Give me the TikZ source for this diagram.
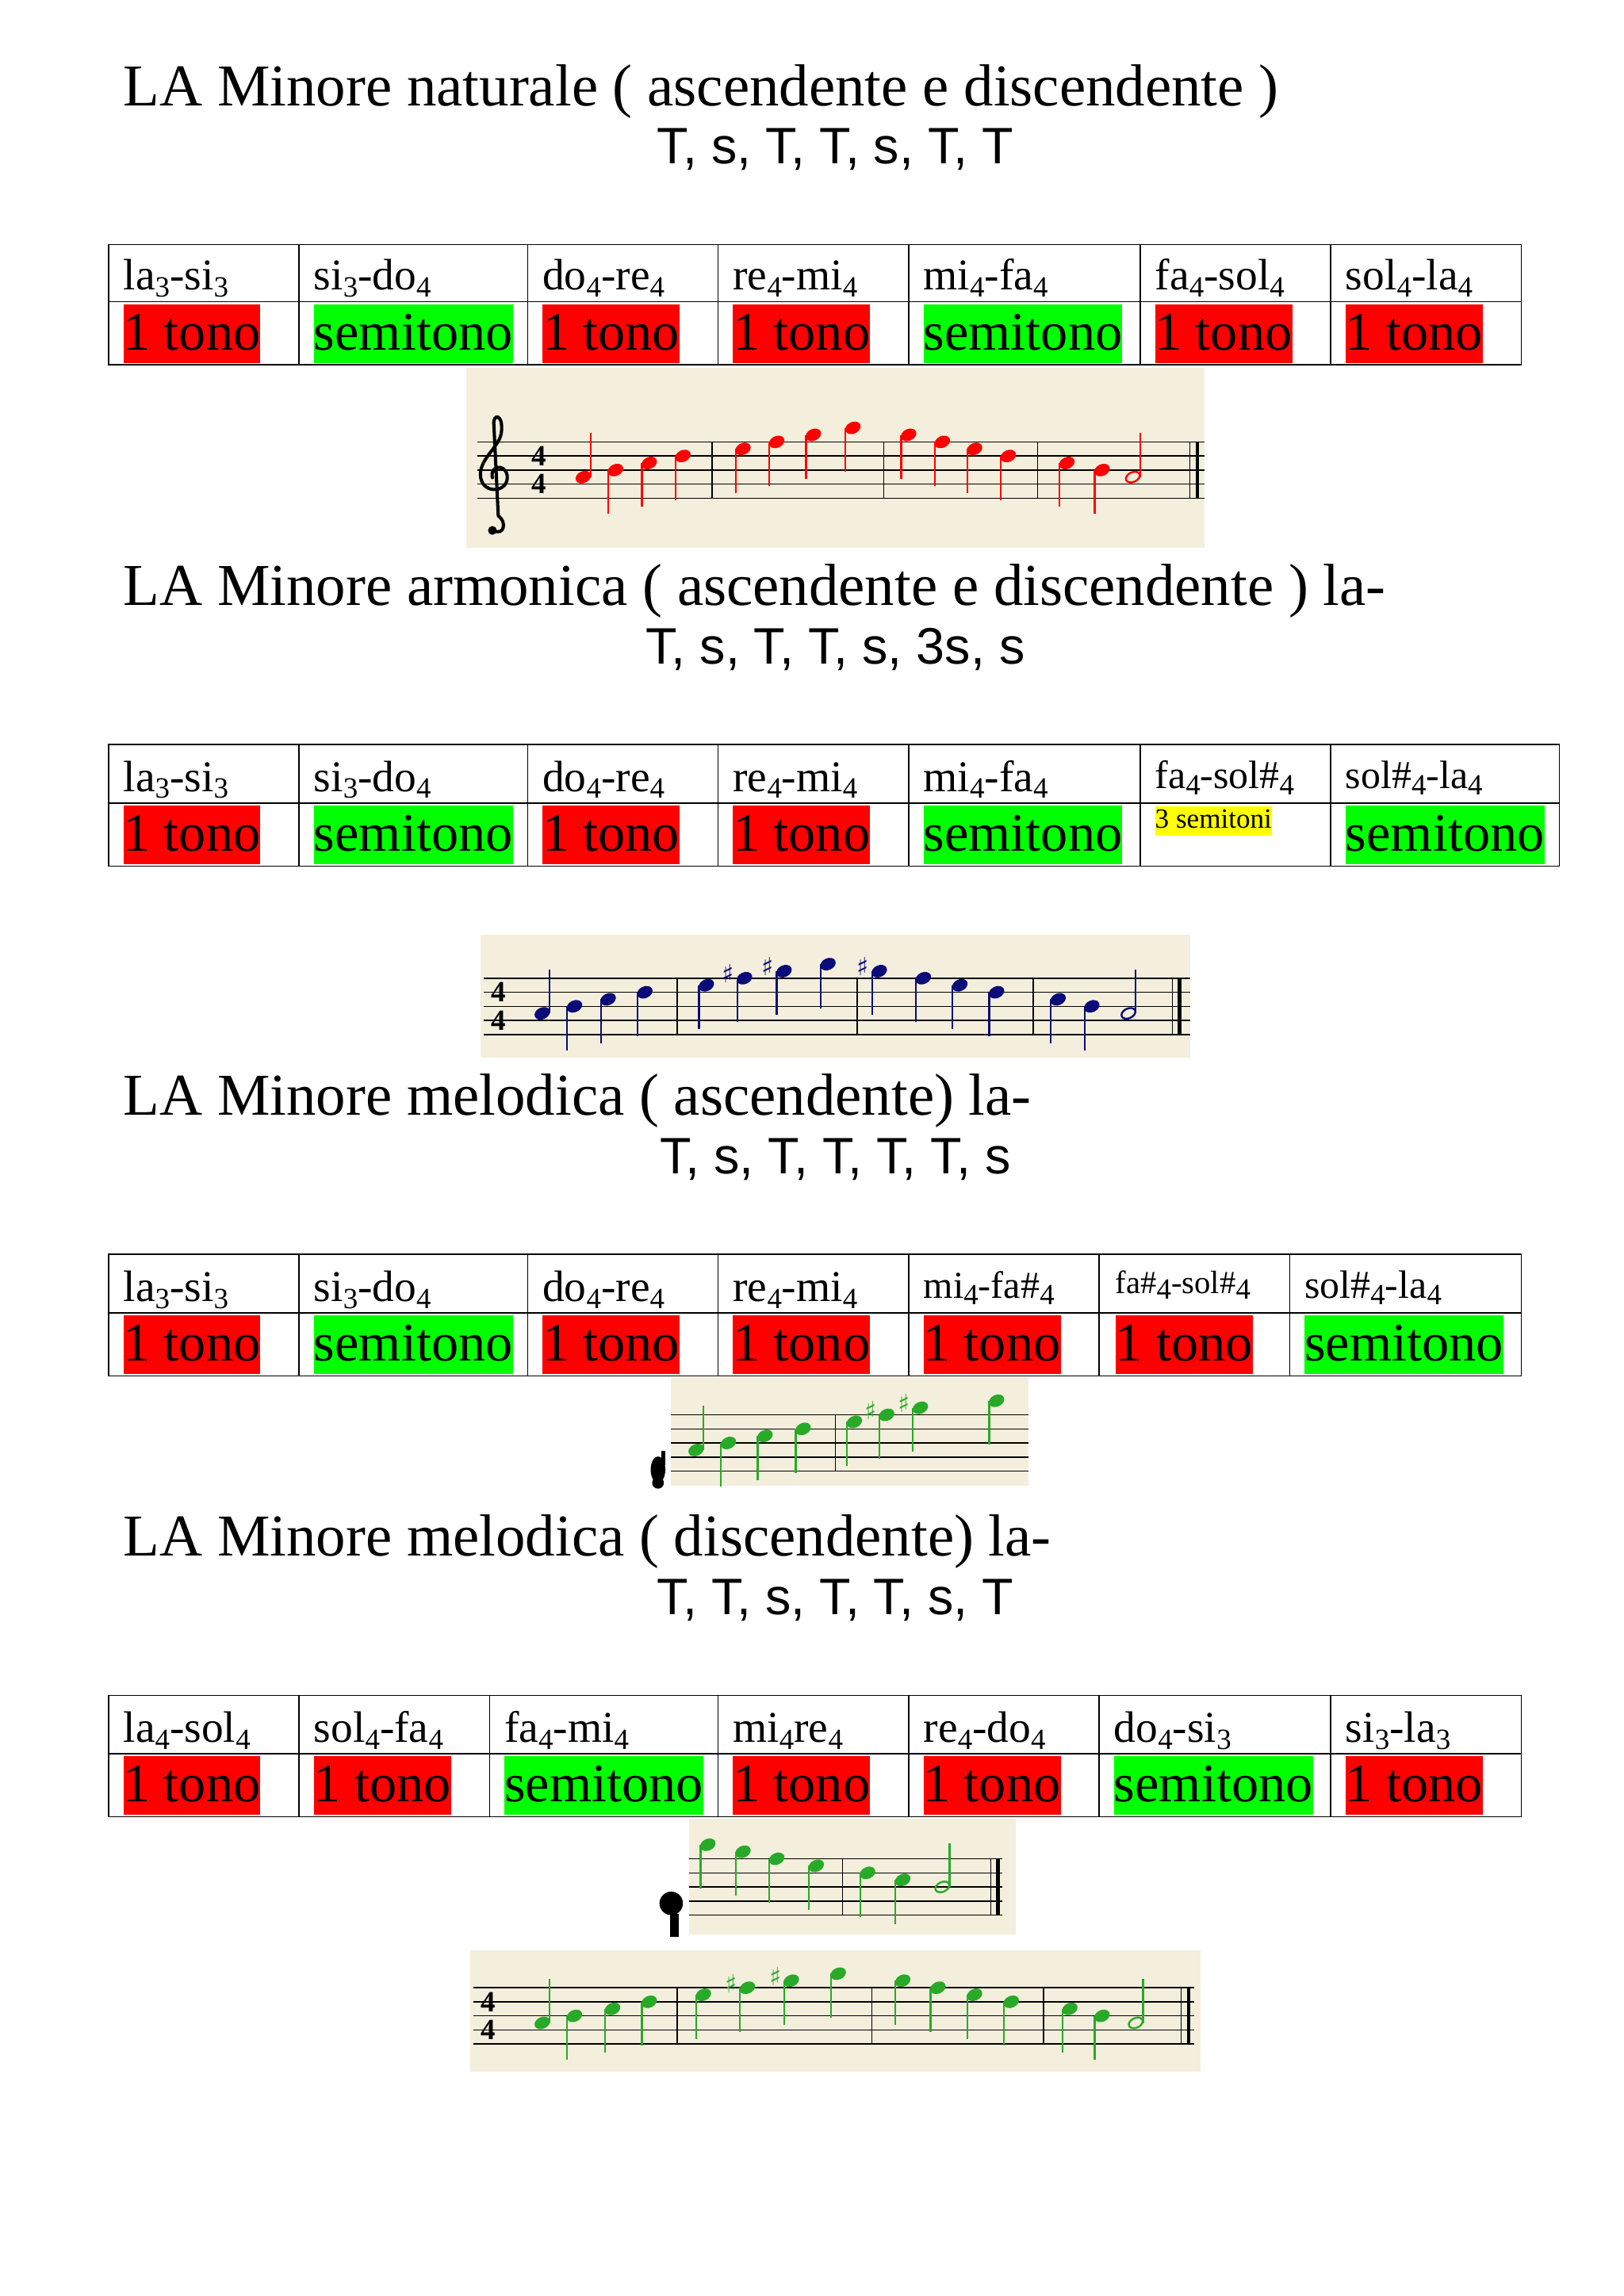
\documentclass[tikz,border=0pt]{standalone}
\usepackage{fontspec}
\setmainfont{Liberation Serif}
\newfontfamily\arialf{Liberation Sans}
\newfontfamily\djv{DejaVu Sans}
\definecolor{rd}{RGB}{255,0,0}
\definecolor{gr}{RGB}{0,255,0}
\definecolor{yl}{RGB}{255,255,0}
\definecolor{cream}{RGB}{244,238,220}
\definecolor{nblue}{RGB}{10,10,120}
\definecolor{ngreen}{RGB}{40,170,40}
\newcommand\subx[1]{\raisebox{-.35ex}{\fontsize{20}{20}\selectfont #1}}
\newcommand\mynt[4]{\pgfmathsetmacro\ny{#2-#3*4.8}%
 \fill[#4,rotate around={25:(#1,\ny)}] (#1,\ny) ellipse (5.5 and 4);
 \ifnum#3<4 \draw[#4,line width=1.2pt] (#1+5,\ny) -- ++(0,-30); \else \draw[#4,line width=1.2pt] (#1-5,\ny) -- ++(0,30); \fi}
\newcommand\myntH[4]{\pgfmathsetmacro\ny{#2-#3*4.8}%
 \draw[#4,line width=1.3pt,rotate around={25:(#1,\ny)}] (#1,\ny) ellipse (5 and 3.3);
 \draw[#4,line width=1.2pt] (#1+5,\ny) -- ++(0,-30);}
\newcommand\myshp[4]{\pgfmathsetmacro\ny{#2-#3*4.8}\node[#4,font=\djv\fontsize{17}{17}\selectfont] at (#1-11,\ny-3) {♯};}
\newcommand\mystf[3]{\foreach \i in {0,...,4}{\draw[line width=0.8pt] (#1,#3-9.6*\i) -- (#2,#3-9.6*\i);}}
\newcommand\mybar[2]{\draw[line width=0.8pt] (#1,#2) -- (#1,#2-38.4);}
\newcommand\mydbar[2]{\draw[line width=0.8pt] (#1,#2) -- (#1,#2-38.4);\draw[line width=2.5pt] (#1+5,#2) -- (#1+5,#2-38.4);}
\newcommand\mytsig[2]{\node[font=\bfseries\fontsize{20}{20}\selectfont,inner sep=0] at (#1,#2-28.8) {4};\node[font=\bfseries\fontsize{20}{20}\selectfont,inner sep=0] at (#1,#2-9.6) {4};}
\tikzset{ttl/.style={anchor=base west,font=\fontsize{40.5}{42}\selectfont,inner sep=0},
 pat/.style={anchor=base,font=\arialf\fontsize{35}{36}\selectfont,inner sep=0},
 hdr/.style={anchor=base west,font=\fontsize{30}{30}\selectfont,inner sep=0},
 fc/.style={anchor=north west,font=\fontsize{37}{37}\selectfont,inner xsep=0,inner ysep=0,text height=31,text depth=9,fill=#1},
 grid/.style={line width=0.8pt}}
\begin{document}
\begin{tikzpicture}[x=1pt,y=-1pt]
\useasboundingbox[fill=white] (0,0) rectangle (1108,1567);
% ---------- section 1
\node[ttl] (t1) at (84,72) {LA Minore naturale ( ascendente e discendente )};
\node[pat] (p1) at (570,112) {T, s, T, T, s, T, T};
\draw[grid] (74,167) rectangle (1038,249) (74,206) -- (1038,206);
\foreach \x in {204,360,490,620,778,908}{\draw[grid] (\x,167) -- (\x,249);}
\node[hdr] at (84,198) {la\subx3-si\subx3};
\node[hdr] at (214,198) {si\subx3-do\subx4};
\node[hdr] at (370,198) {do\subx4-re\subx4};
\node[hdr] at (500,198) {re\subx4-mi\subx4};
\node[hdr] at (630,198) {mi\subx4-fa\subx4};
\node[hdr] at (788,198) {fa\subx4-sol\subx4};
\node[hdr] at (918,198) {sol\subx4-la\subx4};
\node[fc=rd] at (84,207.5) {1 tono};
\node[fc=gr] at (214,207.5) {semitono};
\node[fc=rd] at (370,207.5) {1 tono};
\node[fc=rd] at (500,207.5) {1 tono};
\node[fc=gr] at (630,207.5) {semitono};
\node[fc=rd] at (788,207.5) {1 tono};
\node[fc=rd] at (918,207.5) {1 tono};
\fill[cream] (318,251) rectangle (822,374);
\mystf{326}{822}{340}
% treble clef
\draw[black,line width=2.2pt,line cap=round] (340,352) .. controls (346,356) and (344,366) .. (337,362)
  (340,352) -- (337,290) .. controls (336,282) and (344,282) .. (342,296)
  .. controls (340,306) and (326,314) .. (328,326) .. controls (330,338) and (348,336) .. (346,324)
  .. controls (344,316) and (334,318) .. (336,326);
\fill (336,362) circle (3);
\mytsig{368}{340}
\foreach \x/\s in {398/3,420/4,443/5,466/6,507/7,530/8,555/9,582/10,620/9,643/8,665/7,688/6,728/5,752/4}{\mynt{\x}{340}{\s}{rd}}
\myntH{773}{340}{3}{rd}
\mybar{486}{340}\mybar{603}{340}\mybar{708}{340}\mydbar{812}{340}
% ---------- section 2
\node[ttl] (t2) at (84,413) {LA Minore armonica ( ascendente e discendente ) la-};
\node[pat] (p2) at (570,453) {T, s, T, T, s, 3s, s};
\draw[grid] (74,508) rectangle (1064,591) (74,548) -- (1064,548);
\foreach \x in {204,360,490,620,778,908}{\draw[grid] (\x,508) -- (\x,591);}
\node[hdr] at (84,540) {la\subx3-si\subx3};
\node[hdr] at (214,540) {si\subx3-do\subx4};
\node[hdr] at (370,540) {do\subx4-re\subx4};
\node[hdr] at (500,540) {re\subx4-mi\subx4};
\node[hdr] at (630,540) {mi\subx4-fa\subx4};
\node[hdr,font=\fontsize{27}{27}\selectfont] at (788,538) {fa\subx4-sol\#\subx4};
\node[hdr,font=\fontsize{27}{27}\selectfont] at (918,538) {sol\#\subx4-la\subx4};
\node[fc=rd] at (84,549.5) {1 tono};
\node[fc=gr] at (214,549.5) {semitono};
\node[fc=rd] at (370,549.5) {1 tono};
\node[fc=rd] at (500,549.5) {1 tono};
\node[fc=gr] at (630,549.5) {semitono};
\node[anchor=north west,fill=yl,inner sep=0,font=\fontsize{19}{19}\selectfont,text height=15,text depth=5] at (788,550) {3 semitoni};
\node[fc=gr] at (918,549.5) {semitono};
\fill[cream] (328,638) rectangle (812,722);
\mystf{330}{812}{706}
\mytsig{340}{706}
\foreach \x/\s in {370/3,392/4,415/5,440/6,482/7,508/8,535/9,565/10,600/9,630/8,655/7,680/6,722/5,745/4}{\mynt{\x}{706}{\s}{nblue}}
\myshp{508}{706}{8}{nblue}\myshp{535}{706}{9}{nblue}\myshp{600}{706}{9}{nblue}
\myntH{770}{706}{3}{nblue}
\mybar{462}{706}\mybar{585}{706}\mybar{705}{706}\mydbar{800}{706}
% ---------- section 3
\node[ttl] (t3) at (84,761) {LA Minore melodica ( ascendente) la-};
\node[pat] (p3) at (570,801) {T, s, T, T, T, T, s};
\draw[grid] (74,856) rectangle (1038,939) (74,896) -- (1038,896);
\foreach \x in {204,360,490,620,750,880}{\draw[grid] (\x,856) -- (\x,939);}
\node[hdr] at (84,888) {la\subx3-si\subx3};
\node[hdr] at (214,888) {si\subx3-do\subx4};
\node[hdr] at (370,888) {do\subx4-re\subx4};
\node[hdr] at (500,888) {re\subx4-mi\subx4};
\node[hdr,font=\fontsize{26}{26}\selectfont] at (630,886) {mi\subx4-fa\#\subx4};
\node[hdr,font=\fontsize{22}{22}\selectfont] at (761,883) {fa\#\subx4-sol\#\subx4};
\node[hdr,font=\fontsize{27}{27}\selectfont] at (890,886) {sol\#\subx4-la\subx4};
\node[fc=rd] at (84,897.5) {1 tono};
\node[fc=gr] at (214,897.5) {semitono};
\node[fc=rd] at (370,897.5) {1 tono};
\node[fc=rd] at (500,897.5) {1 tono};
\node[fc=rd] at (630,897.5) {1 tono};
\node[fc=rd] at (761,897.5) {1 tono};
\node[fc=gr] at (890,897.5) {semitono};
\fill[cream] (458,940) rectangle (702,1014);
\mystf{458}{702}{1004}
\foreach \x/\s in {475/3,497/4,522/5,548/6,583/7,605/8,628/9,680/10}{\mynt{\x}{1004}{\s}{ngreen}}
\myshp{605}{1004}{8}{ngreen}\myshp{628}{1004}{9}{ngreen}
\mybar{570}{1004}
\fill[black] (449,1003) ellipse (5 and 9);
\fill[black] (449,1012) ellipse (4 and 4);
\fill[black] (451,990) rectangle (454,1000);
% ---------- section 4
\node[ttl] (t4) at (84,1062) {LA Minore melodica ( discendente) la-};
\node[pat] (p4) at (570,1102) {T, T, s, T, T, s, T};
\draw[grid] (74,1157) rectangle (1038,1240) (74,1197) -- (1038,1197);
\foreach \x in {204,334,490,620,750,908}{\draw[grid] (\x,1157) -- (\x,1240);}
\node[hdr] at (84,1189) {la\subx4-sol\subx4};
\node[hdr] at (214,1189) {sol\subx4-fa\subx4};
\node[hdr] at (344,1189) {fa\subx4-mi\subx4};
\node[hdr] at (500,1189) {mi\subx4re\subx4};
\node[hdr] at (630,1189) {re\subx4-do\subx4};
\node[hdr] at (760,1189) {do\subx4-si\subx3};
\node[hdr] at (918,1189) {si\subx3-la\subx3};
\node[fc=rd] at (84,1198.5) {1 tono};
\node[fc=rd] at (214,1198.5) {1 tono};
\node[fc=gr] at (344,1198.5) {semitono};
\node[fc=rd] at (500,1198.5) {1 tono};
\node[fc=rd] at (630,1198.5) {1 tono};
\node[fc=gr] at (760,1198.5) {semitono};
\node[fc=rd] at (918,1198.5) {1 tono};
\fill[cream] (470,1241) rectangle (693,1320);
\mystf{470}{684}{1307}
\foreach \x/\s in {483/10,507/9,530/8,557/7,592/6,616/5}{\mynt{\x}{1307}{\s}{ngreen}}
\myntH{643}{1307}{4}{ngreen}
\mybar{575}{1307}\mydbar{676}{1307}
\fill[black] (458,1299) ellipse (8 and 8);
\fill[black] (457,1306) rectangle (463,1322);
% ---------- section 5 staff
\fill[cream] (321,1331) rectangle (819,1414);
\mystf{323}{815}{1395}
\mytsig{333}{1395}
\foreach \x/\s in {370/3,392/4,418/5,443/6,480/7,510/8,540/9,572/10,616/9,640/8,665/7,690/6,730/5,752/4}{\mynt{\x}{1395}{\s}{ngreen}}
\myshp{510}{1395}{8}{ngreen}\myshp{540}{1395}{9}{ngreen}
\myntH{775}{1395}{3}{ngreen}
\mybar{462}{1395}\mybar{595}{1395}\mybar{712}{1395}\mydbar{806}{1395}
\end{tikzpicture}
\end{document}
